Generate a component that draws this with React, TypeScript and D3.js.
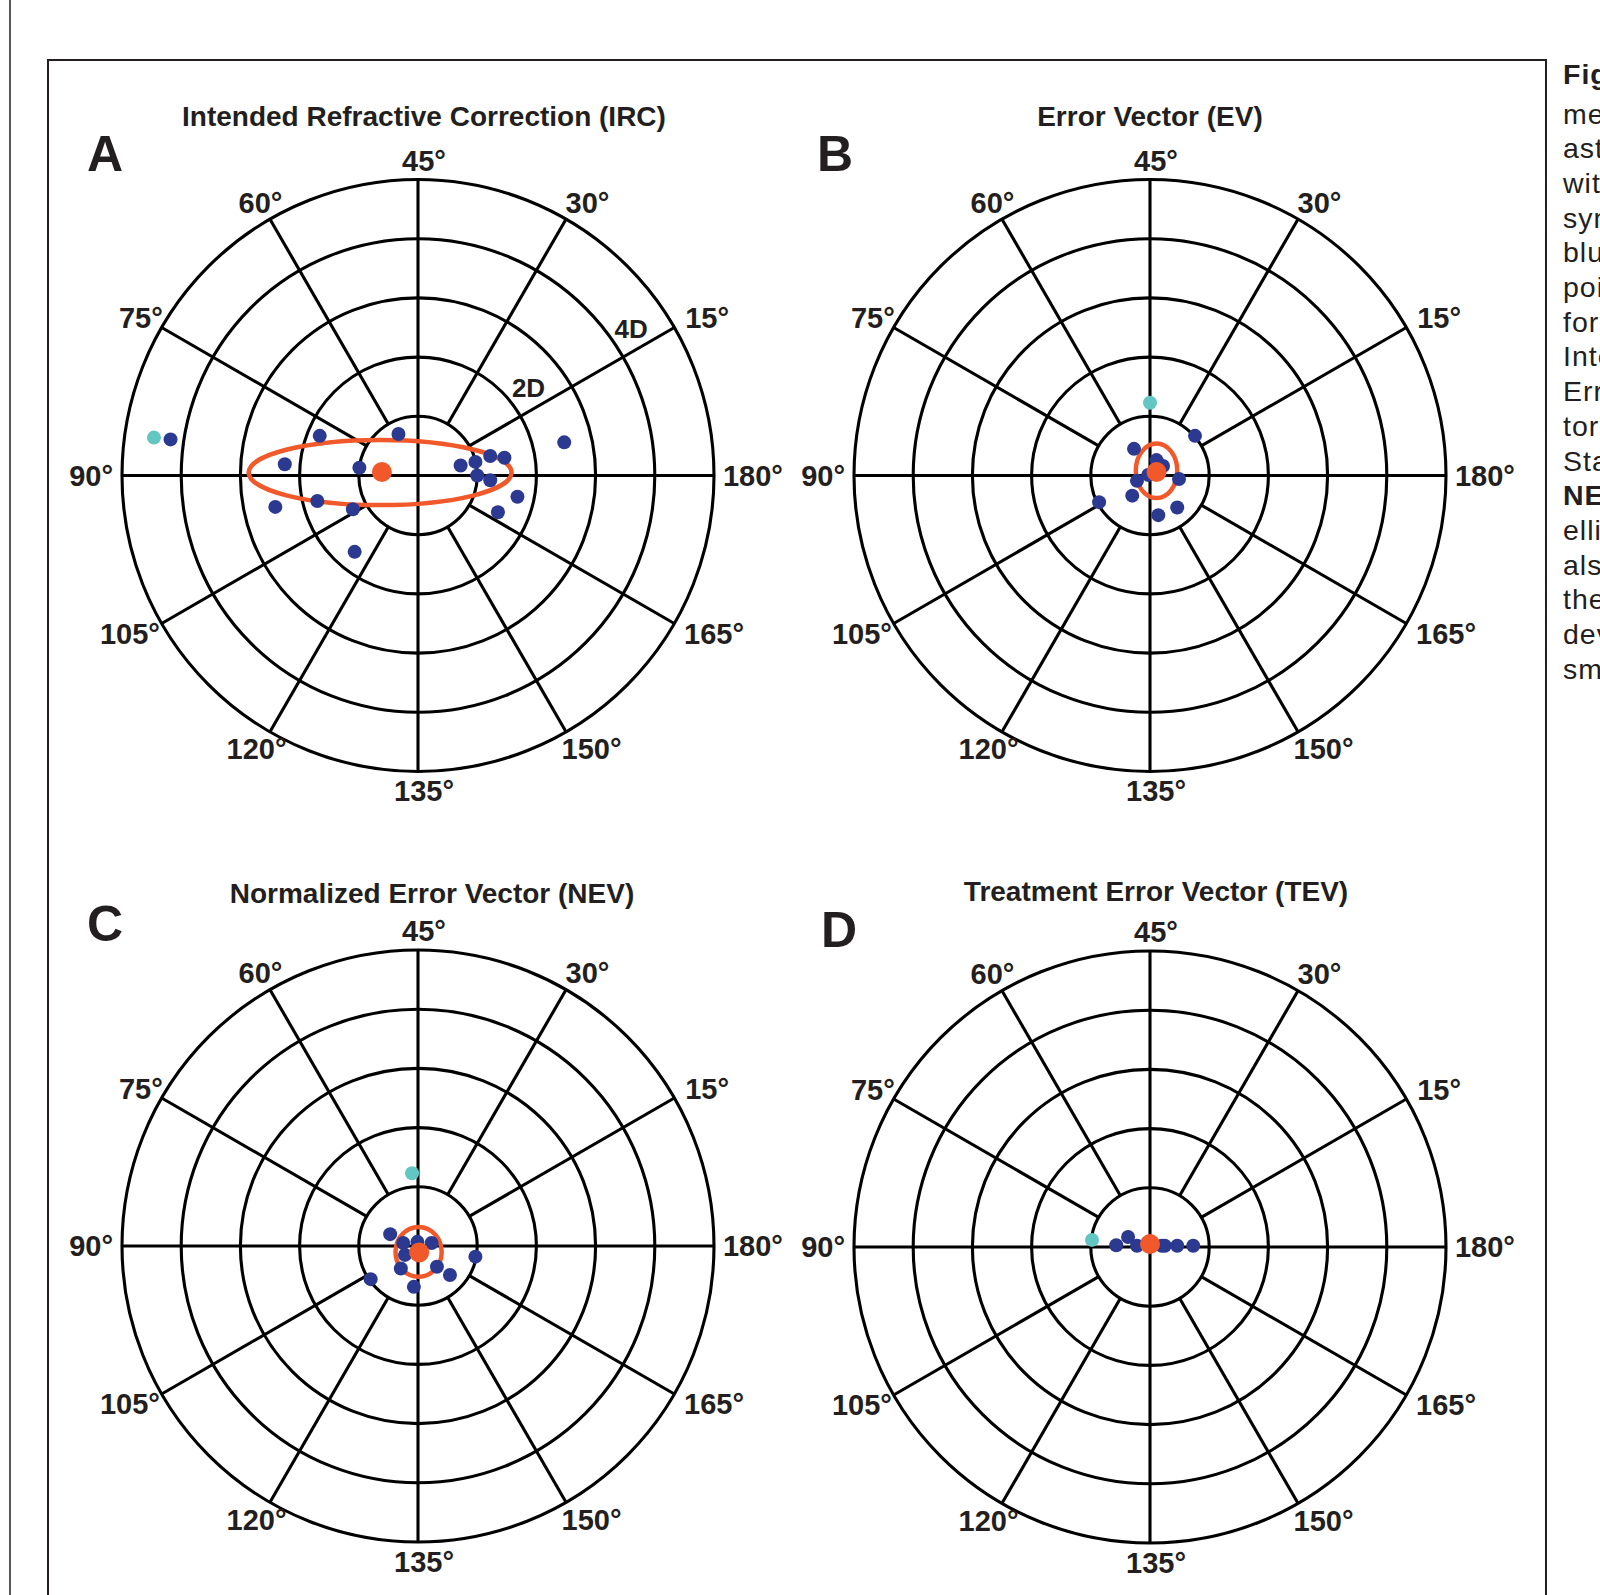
import React, { useEffect, useRef } from 'react';
import * as d3 from 'd3';

// Axis labels (astigmatism axis, degrees) — plotted at double angle
const axisTicks = [180, 15, 30, 45, 60, 75, 90, 105, 120, 135, 150, 165];
const rings = [1, 2, 3, 4, 5];
const ringLabels = [2, 4];

// Points are double-angle components [x, y] in dioptres
const ircPoints = [
  [-4.18, 0.61], [-1.66, 0.67], [-0.33, 0.7], [-2.25, 0.19], [-0.99, 0.13],
  [0.72, 0.17], [0.97, 0.23], [1.22, 0.33], [1.46, 0.3], [1.0, 0.0],
  [1.22, -0.08], [2.47, 0.56], [1.68, -0.36], [1.35, -0.62], [-2.41, -0.53],
  [-1.7, -0.43], [-1.1, -0.57], [-1.07, -1.29],
];
const ircOutlier = [-4.46, 0.64];
const ircMean = [-0.61, 0.06];
const ircEllipse = [-0.64, 0.05, 2.22, 0.55];

const evPoints = [
  [0.76, 0.67], [-0.27, 0.45], [0.11, 0.26], [0.22, 0.16], [-0.03, 0.01],
  [-0.22, -0.09], [0.49, -0.06], [-0.3, -0.34], [0.46, -0.54], [0.14, -0.67],
  [-0.86, -0.45],
];
const evOutlier = [0.0, 1.23];
const evMean = [0.11, 0.06];
const evEllipse = [0.11, 0.08, 0.35, 0.46];

const nevPoints = [
  [-0.47, 0.2], [-0.25, 0.05], [-0.01, 0.07], [0.23, 0.05], [-0.22, -0.15],
  [-0.29, -0.38], [0.32, -0.35], [0.54, -0.49], [0.97, -0.18], [-0.8, -0.56],
  [-0.07, -0.69],
];
const nevOutlier = [-0.1, 1.23];
const nevMean = [0.02, -0.11];
const nevEllipse = [0.01, -0.1, 0.39, 0.42];

const tevPoints = [
  [-0.57, 0.03], [-0.37, 0.17], [-0.22, 0.02], [0.2, 0.02], [0.25, 0.02],
  [0.46, 0.02], [0.73, 0.02],
];
const tevOutlier = [-0.98, 0.12];
const tevMean = [0.0, 0.05];

const captionLines = [
  'Figure 4.', 'mean refractive', 'astigmatism vectors', 'with 95% confidence',
  'symbols (n = 19):', 'blue dots are eyes,', 'point is the mean', 'for each vector:',
  'Intended Refractive', 'Error Vector (EV),', 'tor, and Treatment', 'Standard deviation',
  'NEV and TEV', 'ellipses are shown', 'also; note that', 'the TEV standard',
  'deviation is very', 'small.',
];
const boldCaption = [0, 12];

const BLUE = '#2b3990';
const CYAN = '#62c6c2';
const RED = '#f1592a';
const INK = '#231f20';
const FONT = '"Liberation Sans", Arial, sans-serif';

const App: React.FC = () => {
  const svgRef = useRef<SVGSVGElement>(null);
  const width = 1600;
  const height = 1595;

  useEffect(() => {
    if (!svgRef.current) return;
    const svg = d3.select(svgRef.current);
    svg.selectAll('*').remove();

    // Frames
    svg.append('line')
      .attr('x1', 10).attr('x2', 10).attr('y1', 0).attr('y2', height)
      .attr('stroke', INK).attr('stroke-width', 1.5);
    svg.append('path')
      .attr('d', `M48,${height + 10}V60H1546V${height + 10}`)
      .attr('fill', 'none').attr('stroke', INK).attr('stroke-width', 2);

    const R = 296;
    const rScale = d3.scaleLinear().domain([0, 5]).range([0, R]);
    const rad = (d: number) => (2 * d * Math.PI) / 180;

    const panels = [
      { letter: 'A', title: 'Intended Refractive Correction (IRC)', cx: 418, cy: 475.5, tx: 424, ty: 116, lx: 105, ly: 153,
        points: ircPoints, outlier: ircOutlier, mean: ircMean, ellipse: ircEllipse, ringText: true },
      { letter: 'B', title: 'Error Vector (EV)', cx: 1150, cy: 475.5, tx: 1150, ty: 116, lx: 835, ly: 153,
        points: evPoints, outlier: evOutlier, mean: evMean, ellipse: evEllipse, ringText: false },
      { letter: 'C', title: 'Normalized Error Vector (NEV)', cx: 418, cy: 1246, tx: 432, ty: 893, lx: 105, ly: 923,
        points: nevPoints, outlier: nevOutlier, mean: nevMean, ellipse: nevEllipse, ringText: false },
      { letter: 'D', title: 'Treatment Error Vector (TEV)', cx: 1150, cy: 1247, tx: 1156, ty: 891, lx: 839, ly: 929,
        points: tevPoints, outlier: tevOutlier, mean: tevMean, ellipse: null, ringText: false },
    ];

    panels.forEach(p => {
      const g = svg.append('g').attr('transform', `translate(${p.cx},${p.cy})`);
      const x = d3.scaleLinear().domain([-5, 5]).range([-R, R]);
      const y = d3.scaleLinear().domain([-5, 5]).range([R, -R]);

      // Rings
      g.selectAll('.ring').data(rings).enter().append('circle')
        .attr('r', d => rScale(d))
        .attr('fill', 'none').attr('stroke', '#000').attr('stroke-width', 3.1);

      // Spokes every 15° of axis (30° of display angle); oblique ones start at ring 1
      const inner = (d: number) => (d % 45 === 0 ? 0 : rScale(1));
      g.selectAll('.spoke').data(axisTicks).enter().append('line')
        .attr('x1', d => inner(d) * Math.cos(rad(d)))
        .attr('y1', d => -inner(d) * Math.sin(rad(d)))
        .attr('x2', d => R * Math.cos(rad(d)))
        .attr('y2', d => -R * Math.sin(rad(d)))
        .attr('stroke', '#000').attr('stroke-width', 3.1);

      // Axis labels
      const fs = 29;
      const cap = fs * 0.72;
      const r0 = R + 9;
      g.selectAll('.tick').data(axisTicks).enter().append('text')
        .attr('x', d => {
          const a = rad(d);
          const w = fs * (0.556 * String(d).length + 0.4);
          const shift = Math.abs(Math.cos(a)) > 0.95 ? 0 : Math.cos(a) < -0.8 && Math.sin(a) < 0 ? 2 : 6;
          return r0 * Math.cos(a) + Math.cos(a) * w / 2 + shift;
        })
        .attr('y', d => {
          const a = rad(d);
          return -r0 * Math.sin(a) - Math.sin(a) * cap / 2 + cap / 2;
        })
        .attr('text-anchor', 'middle')
        .style('font-family', FONT).style('font-weight', 'bold').style('font-size', `${fs}px`)
        .style('fill', INK)
        .text(d => `${d}°`);

      if (p.ringText) {
        g.selectAll('.ringlabel').data(ringLabels).enter().append('text')
          .attr('x', d => rScale(d) * Math.cos(Math.PI / 6) + 8)
          .attr('y', d => -rScale(d) * Math.sin(Math.PI / 6) - 19)
          .attr('text-anchor', 'middle')
          .style('font-family', FONT).style('font-weight', 'bold').style('font-size', '26px')
          .style('fill', INK)
          .text(d => `${d}D`);
      }

      if (p.ellipse) {
        const [ex, ey, erx, ery] = p.ellipse;
        g.append('ellipse')
          .attr('cx', x(ex)).attr('cy', y(ey))
          .attr('rx', rScale(erx)).attr('ry', rScale(ery))
          .attr('fill', 'none').attr('stroke', RED).attr('stroke-width', 4.5);
      }

      g.selectAll('.pt').data(p.points).enter().append('circle')
        .attr('cx', d => x(d[0])).attr('cy', d => y(d[1]))
        .attr('r', 7).attr('fill', BLUE);

      g.append('circle')
        .attr('cx', x(p.outlier[0])).attr('cy', y(p.outlier[1]))
        .attr('r', 7).attr('fill', CYAN);

      g.append('circle')
        .attr('cx', x(p.mean[0])).attr('cy', y(p.mean[1]))
        .attr('r', 10).attr('fill', RED);

      // Title and letter
      svg.append('text')
        .attr('x', p.tx).attr('y', p.ty + 10)
        .attr('text-anchor', 'middle')
        .style('font-family', FONT).style('font-weight', 'bold').style('font-size', '28px')
        .style('fill', INK)
        .text(p.title);
      svg.append('text')
        .attr('x', p.lx).attr('y', p.ly + 18)
        .attr('text-anchor', 'middle')
        .style('font-family', FONT).style('font-weight', 'bold').style('font-size', '50px')
        .style('fill', INK)
        .text(p.letter);
    });

    // Caption (runs off the right edge, as in the source figure)
    svg.selectAll('.caption').data(captionLines).enter().append('text')
      .attr('x', 1563)
      .attr('y', (d, i) => (i === 0 ? 84 : 123.5 + (i - 1) * 34.7))
      .style('font-family', FONT)
      .style('font-size', '28.5px')
      .style('letter-spacing', '1px')
      .style('font-weight', (d, i) => (boldCaption.includes(i) ? 'bold' : 'normal'))
      .style('fill', INK)
      .text(d => d);
  }, []);

  return (
    <svg
      ref={svgRef}
      width={width}
      height={height}
      style={{ position: 'absolute', left: 0, top: 0, background: '#fff' }}
    />
  );
};

export default App;
